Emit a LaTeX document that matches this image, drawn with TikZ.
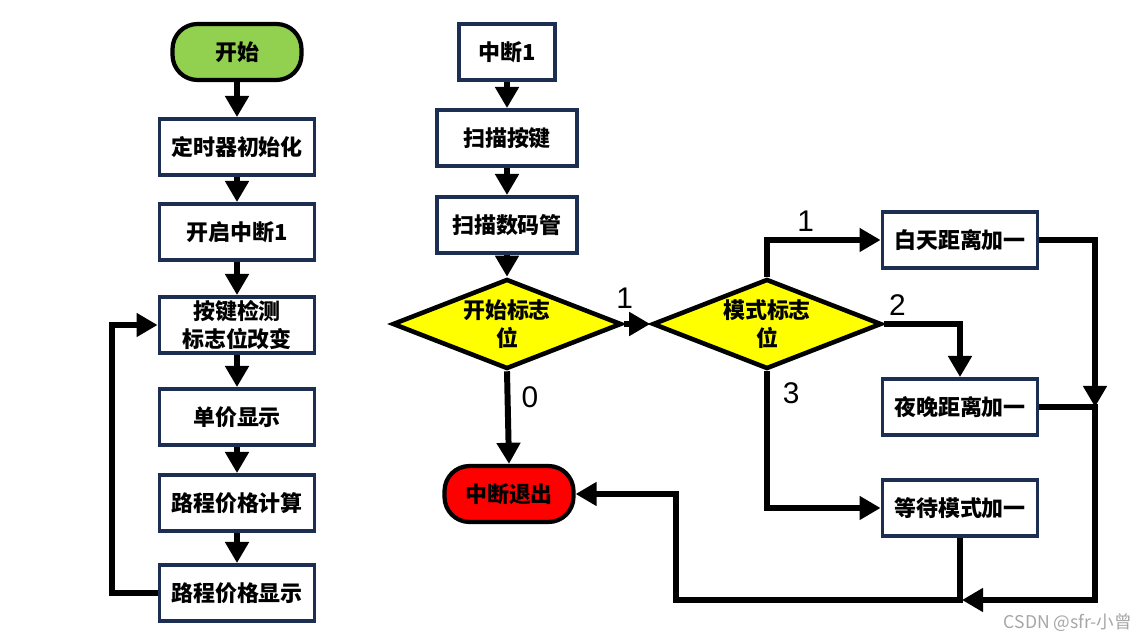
\documentclass[tikz,border=0pt]{standalone}
\usepackage{fontspec}
\setmainfont{Noto Sans CJK SC}
\newfontfamily\numfont{Liberation Sans}
\usetikzlibrary{shapes.geometric,arrows.meta}

\definecolor{boxblue}{RGB}{28,46,82}
\definecolor{startgreen}{RGB}{146,208,80}
\definecolor{quitred}{RGB}{255,0,0}
\definecolor{flagyellow}{RGB}{255,255,0}

\begin{document}
\begin{tikzpicture}[x=0.02cm, y=-0.02cm,
    every node/.style={font=\fontsize{12.5}{16}\selectfont\bfseries},
    box/.style={rectangle, draw=boxblue, line width=2.2pt, fill=white, minimum width=3.1cm, minimum height=1.12cm, align=center, inner sep=1pt},
    term/.style={rectangle, rounded corners=0.5cm, draw, line width=2.4pt, minimum width=2.58cm, minimum height=1.12cm},
    decide/.style={diamond, shape aspect=2.5, draw, line width=2.6pt, fill=flagyellow, minimum width=4.58cm, minimum height=1.8cm, inner sep=0pt, align=center},
    link/.style={line width=3.4pt, -{Triangle[length=12pt,width=13pt]}},
    branch/.style={font=\fontsize{17}{20}\selectfont\numfont}]
    \useasboundingbox (0,0) rectangle (1140,641);

    % Main program
    \node[term, fill=startgreen] (start) at (237,52) {开始};
    \node[box] (init) at (237,147) {定时器初始化};
    \node[box] (inton) at (237,232) {开启中断1};
    \node[box] (keyflag) at (237,325) {按键检测\\标志位改变};
    \node[box] (price) at (237,417) {单价显示};
    \node[box] (pcalc) at (237,503) {路程价格计算};
    \node[box] (pshow) at (237,593) {路程价格显示};

    % Interrupt routine
    \node[box, minimum width=1.92cm] (int1) at (507,52) {中断1};
    \node[box, minimum width=2.8cm] (scankey) at (507,138) {扫描按键};
    \node[box, minimum width=2.8cm] (scanled) at (507,225) {扫描数码管};
    \node[decide] (startflag) at (507,324) {开始标志\\位};
    \node[term, fill=quitred] (quit) at (509,494) {中断退出};
    \node[decide] (modeflag) at (767,324) {模式标志\\位};
    \node[box] (day) at (960,240) {白天距离加一};
    \node[box] (night) at (960,407) {夜晚距离加一};
    \node[box] (wait) at (960,508) {等待模式加一};

    \coordinate (joinR) at (1095,407);
    \coordinate (joinB) at (962,600);
    \coordinate (turn) at (676,600);

    % Links
    \draw[link] (start) -- (init);
    \draw[link] (init) -- (inton);
    \draw[link] (inton) -- (keyflag);
    \draw[link] (keyflag) -- (price);
    \draw[link] (price) -- (pcalc);
    \draw[link] (pcalc) -- (pshow);
    \draw[link] (pshow.west) -- ++(-46,0) |- (keyflag.west);

    \draw[link] (int1) -- (scankey);
    \draw[link] (scankey) -- (scanled);
    \draw[link] (scanled) -- (startflag.north);
    \draw[link] (startflag.south) -- node[branch, pos=0.28, right=3pt] {0} (quit.north);
    \draw[link] (startflag.east) -- node[branch, above=4pt, xshift=-7pt] {1} (modeflag.west);
    \draw[link] (modeflag.north) |- node[branch, pos=0.67, above] {1} (day.west);
    \draw[link] (modeflag.east) -| node[branch, pos=0.09, above] {2} (night.north);
    \draw[link] (modeflag.south) |- node[branch, pos=0.08, right=4pt] {3} (wait.west);

    \draw[link] (day.east) -| (joinR);
    \draw[link] (night.east) -- (joinR) |- (joinB);
    \draw[link] (wait.south) |- (turn) |- (quit.east);

    % Watermark
    \node[font=\fontsize{10}{12}\selectfont, text=black!35] (mark) at (1068,623) {CSDN @sfr-小曾};
\end{tikzpicture}
\end{document}
